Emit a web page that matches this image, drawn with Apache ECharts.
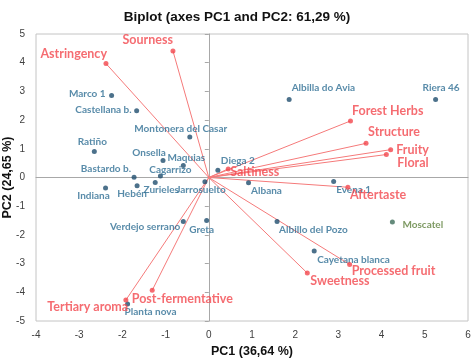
<!DOCTYPE html>
<html><head><meta charset="utf-8">
<script src="https://cdn.jsdelivr.net/npm/echarts@6/dist/echarts.min.js"></script>
<style>html,body{margin:0;padding:0;background:#fff}#c{width:474px;height:361px}</style>
</head><body><div id="c"></div>
<script>
// Observations (cultivars)
const obsNames = ['Marco 1','Castellana b.','Montonera del Casar','Ratiño','Onsella','Maquias','Cagarrizo','Bastardo b.','Diega 2','Indiana','Hebén','Zurieles','Jarrosuelto','Verdejo serrano','Greta','Planta nova','Albilla do Avia','Riera 46','Albana','Evena 1','Albillo del Pozo','Cayetana blanca','Moscatel'];
const obsPC1 = [-2.25,-1.67,-0.44,-2.65,-1.06,-0.59,-1.12,-1.73,0.21,-2.39,-1.66,-1.24,-0.09,-0.59,-0.05,-1.88,1.86,5.25,0.92,2.89,1.58,2.44,4.25];
const obsPC2 = [2.86,2.33,1.41,0.91,0.59,0.42,0.05,0.01,0.25,-0.37,-0.29,-0.17,-0.15,-1.53,-1.50,-4.41,2.72,2.72,-0.18,-0.14,-1.53,-2.56,-1.55];
// Variables (vectors)
const varNames = ['Astringency','Sourness','Forest Herbs','Structure','Fruity','Floral','Saltiness','Aftertaste','Processed fruit','Sweetness','Post-fermentative','Tertiary aroma'];
const varPC1 = [-2.38,-0.83,3.28,3.64,4.21,4.11,0.45,3.22,3.26,2.28,-1.31,-1.92];
const varPC2 = [3.97,4.41,1.97,1.19,0.97,0.80,0.30,-0.34,-3.03,-3.33,-3.93,-4.27];
const xTicks = [-4,-3,-2,-1,0,1,2,3,4,5,6];
const yTicks = [-5,-4,-3,-2,-1,0,1,2,3,4,5];

// label layout: [align, dx, dy]
const obsLab = {
 'Marco 1':['right',-6,-2],'Castellana b.':['right',-5,-1],'Montonera del Casar':['center',-9,-8],
 'Ratiño':['center',-2,-10],'Onsella':['center',-14,-8],'Maquias':['center',3,-8],'Cagarrizo':['center',10,-6],
 'Bastardo b.':['right',-3,-8],'Diega 2':['left',3,-10],'Indiana':['center',-12,8],'Hebén':['center',-5,7.5],
 'Zurieles':['center',6,7],'Jarrosuelto':['center',-4,7.5],'Verdejo serrano':['right',-3,5],'Greta':['center',-5,9],
 'Planta nova':['left',-3,8],'Albilla do Avia':['left',2.5,-12],'Riera 46':['center',5.5,-12],'Albana':['left',2.5,8],
 'Evena 1':['left',2.5,8],'Albillo del Pozo':['left',2,8],'Cayetana blanca':['left',3,8.5],'Moscatel':['left',10,3]
};
const varLab = {
 'Astringency':['right',1,-10],'Sourness':['right',0,-11],'Forest Herbs':['left',1.5,-10],'Structure':['left',2,-11],
 'Fruity':['left',5.5,0],'Floral':['left',11,8],'Saltiness':['left',2,3],'Aftertaste':['left',2,8],
 'Processed fruit':['left',2,7],'Sweetness':['left',3,8],'Post-fermentative':['left',-20.5,8.4],'Tertiary aroma':['right',2.3,6.7]
};

const BLUE_TXT = '#2e6e94', BLUE_DOT = '#1f4e6e', GREEN = '#5d7f3b', RED = '#f2474d', RED_LINE = '#f57a7a';
const FONT = 'Lato';

const obsData = obsNames.map((n,i)=>{
  const l = obsLab[n]; const green = n==='Moscatel';
  return {name:n, value:[obsPC1[i],obsPC2[i]],
    itemStyle:{color: green? '#3f6e5a' : BLUE_DOT},
    label:{show:true, formatter:n, position:'inside', align:l[0], verticalAlign:'middle', offset:[l[1],l[2]],
      color: green? GREEN : BLUE_TXT, fontFamily:FONT, fontWeight:'bold', fontSize:10}};
});
const varData = varNames.map((n,i)=>{
  const l = varLab[n];
  return {name:n, value:[varPC1[i],varPC2[i]],
    label:{show:true, formatter:n, position:'inside', align:l[0], verticalAlign:'middle', offset:[l[1],l[2]],
      color: RED, fontFamily:FONT, fontWeight:'bold', fontSize:12.5}};
});
const vecData = varNames.map((n,i)=>({coords:[[0,0],[varPC1[i],varPC2[i]]]}));

const axCommon = {type:'value', splitLine:{show:false}};
const chart = echarts.init(document.getElementById('c'));
chart.setOption({
  animation:false,
  title:{text:'Biplot (axes PC1 and PC2: 61,29 %)', left:'center', top:5,
    textStyle:{fontFamily:'Liberation Sans', fontWeight:'bold', fontSize:13.5, color:'#111'}},
  grid:{left:36, right:6, top:34, bottom:40, show:true, borderColor:'#c4c4c4', borderWidth:1,
    containLabel:false, outerBoundsMode:'none'},
  xAxis:[
    Object.assign({}, axCommon, {min:xTicks[0], max:xTicks[xTicks.length-1], interval:1, position:'bottom',
      axisLine:{show:false, onZero:false}, axisTick:{show:false},
      axisLabel:{margin:9, color:'#404040', fontSize:10, fontFamily:'Liberation Sans'},
      name:'PC1 (36,64 %)', nameLocation:'middle', nameGap:24, nameMoveOverlap:false,
      nameTextStyle:{fontFamily:'Liberation Sans', fontWeight:'bold', fontSize:12.5, color:'#111'}}),
    Object.assign({}, axCommon, {min:xTicks[0], max:xTicks[xTicks.length-1], interval:1, position:'bottom',
      axisLine:{show:true, onZero:true, onZeroAxisIndex:0, lineStyle:{color:'#a8a8a8', width:1}},
      axisTick:{show:false}, axisLabel:{show:false}})
  ],
  yAxis:[
    Object.assign({}, axCommon, {min:yTicks[0], max:yTicks[yTicks.length-1], interval:1, position:'left',
      axisLine:{show:false, onZero:false}, axisTick:{show:false},
      axisLabel:{margin:11, color:'#404040', fontSize:10, fontFamily:'Liberation Sans'},
      name:'PC2 (24,65 %)', nameLocation:'middle', nameGap:22, nameRotate:90, nameMoveOverlap:false,
      nameTextStyle:{fontFamily:'Liberation Sans', fontWeight:'bold', fontSize:12.5, color:'#111'}}),
    Object.assign({}, axCommon, {min:yTicks[0], max:yTicks[yTicks.length-1], interval:1, position:'left',
      axisLine:{show:true, onZero:true, onZeroAxisIndex:0, lineStyle:{color:'#a8a8a8', width:1}},
      axisTick:{show:true, length:4, inside:false, lineStyle:{color:'#a8a8a8'}}, axisLabel:{show:false}})
  ],
  series:[
    {type:'lines', coordinateSystem:'cartesian2d', xAxisIndex:0, yAxisIndex:0, data:vecData, silent:true,
      lineStyle:{color:RED_LINE, width:1, opacity:1}, z:3},
    {type:'scatter', xAxisIndex:0, yAxisIndex:0, data:obsData, symbolSize:5, z:4},
    {type:'scatter', xAxisIndex:0, yAxisIndex:0, data:varData, symbolSize:5, itemStyle:{color:RED}, z:5}
  ]
});
</script></body></html>
